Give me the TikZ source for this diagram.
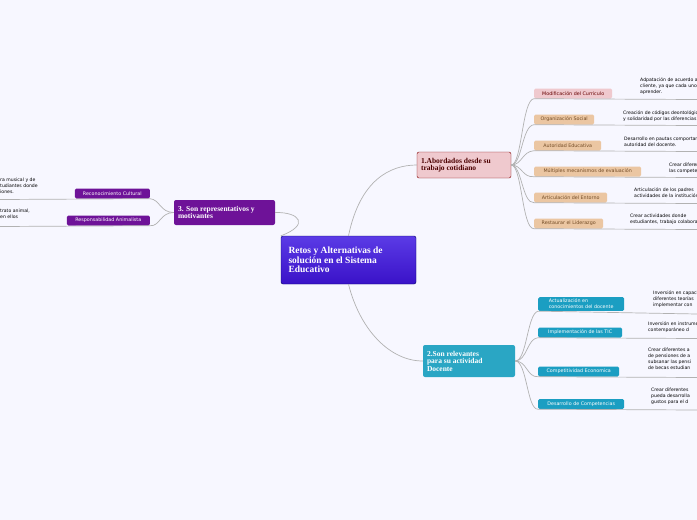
\documentclass[tikz,border=0pt]{standalone}
\usepackage{fontspec}
\setmainfont{Liberation Serif}
\newfontfamily\sm{DejaVu Sans}
\definecolor{teal1}{HTML}{1B9EC2}
\definecolor{teal2}{HTML}{2AA6C4}
\definecolor{pink1}{HTML}{EFC9CE}
\definecolor{tan1}{HTML}{EBC6A2}
\definecolor{pur1}{HTML}{6E1298}
\definecolor{cen1}{HTML}{5B3BE6}
\definecolor{cen2}{HTML}{3A12C8}
\begin{document}
\begin{tikzpicture}[x=1pt,y=-1pt,
 con/.style={draw=gray!60,line width=0.7pt},
 tx/.style={font=\sm\fontsize{4.6}{6}\selectfont,align=left,anchor=north west,inner sep=0},
 sub/.style={font=\sm\fontsize{4.8}{6}\selectfont,anchor=west,inner sep=2pt,rounded corners=1.5pt,minimum height=10pt,align=left},
 tan/.style={sub,fill=tan1,text=brown!60!black},
 pk/.style={sub,fill=pink1,text=red!40!black},
 tl/.style={sub,fill=teal1,text=white},
 pu/.style={sub,fill=pur1,text=white,anchor=east},
 main/.style={rounded corners=2pt,align=flush left,font=\bfseries\fontsize{7.5}{7.5}\selectfont}]
\fill[blue!3] (0,0) rectangle (697,520);
\useasboundingbox (0,0) rectangle (697,520);
% central
\node[main,draw=blue!40!black,top color=cen1,bottom color=cen2,text=white,font=\bfseries\fontsize{9.5}{9.5}\selectfont,minimum width=135pt,minimum height=48pt,text width=120pt] (c) at (348.5,260) {Retos y Alternativas de\\solución en el Sistema\\Educativo};
\node[main,fill=pink1,draw=red!50!black,text=red!30!black,minimum width=94pt,minimum height=26pt,text width=86pt] (n1) at (464,165) {1.Abordados desde su\\trabajo cotidiano};
\node[main,fill=teal2,text=white,minimum width=92pt,minimum height=32pt,text width=84pt] (n2) at (469,361) {2.Son relevantes\\para su actividad\\Docente};
\node[main,fill=pur1,text=white,minimum width=101pt,minimum height=25pt,text width=93pt] (n3) at (224.5,212.5) {3. Son representativos y\\motivantes};
\draw[con] (c.north) .. controls (360,180) and (390,165) .. (n1.west);
\draw[con] (c.south) .. controls (360,330) and (390,361) .. (n2.west);
\draw[con] (c.north west) .. controls (310,225) and (300,212) .. (n3.east);
% branch 1
\foreach \t/\y/\s/\w [count=\i] in {Modificación del Curriculo/93.5/pk/78, Organización Social/119.5/tan/60, Autoridad Educativa/145.5/tan/67, Múltiples mecanismos de evaluación/171.5/tan/107, Articulación del Entorno/197.5/tan/73, Restaurar el Liderazgo/223.5/tan/69}{
 \node[\s,minimum width=\w pt] (a\i) at (534,\y) {\t};
 \draw[con] (n1.east) .. controls (522,165) and (522,\y+6) .. (a\i.south west) -- (697,\y+6);
}
\node[tx] at (640,78) {Adpatación de acuerdo al\\cliente, ya que cada uno\\aprender.};
\node[tx] at (623,111) {Creación de códigos deontológicos\\y solidaridad por las diferencias};
\node[tx] at (624,137) {Desarrollo en pautas comportamentales\\autoridad del docente.};
\node[tx] at (669,163) {Crear diferentes\\las competencias};
\node[tx] at (634,188) {Articulación de los padres\\actividades de la institución};
\node[tx] at (630,214) {Crear actividades donde\\estudiantes, trabajo colaborativo};
% branch 2
\node[tl,minimum width=86pt] (b1) at (538,304) {Actualización en\\conocimientos del docente};
\node[tl,minimum width=84pt] (b2) at (538,332.5) {Implementación de las TIC};
\node[tl,minimum width=81pt] (b3) at (538,371.5) {Competitividad Economica};
\node[tl,minimum width=86pt] (b4) at (538,404) {Desarrollo de Competencias};
\foreach \b/\y in {b1/314,b2/338.5,b3/377.5,b4/410}{
 \draw[con] (n2.east) .. controls (527,361) and (527,\y) .. (\b.south west) -- (697,\y);
}
\node[tx] at (653,291) {Inversión en capacitación\\diferentes teorías\\implementar con};
\node[tx] at (648,322) {Inversión en instrumentos\\contemporáneo d};
\node[tx] at (648,348) {Crear diferentes a\\de pensiones de a\\subsanar las pensi\\de becas estudian};
\node[tx] at (651,388) {Crear diferentes\\pueda desarrolla\\gustos para el d};
% branch 3
\node[pu,minimum width=75pt] (r1) at (150,193.5) {Reconocimiento Cultural};
\node[pu,minimum width=83pt] (r2) at (150,220.5) {Responsabilidad Animalista};
\foreach \r/\y in {r1/199.5,r2/226.5}{
 \draw[con] (n3.west) .. controls (160,212.5) and (160,\y) .. (\r.south east) -- (0,\y);
}
\node[tx] at (0,178) {ra musical y de\\tudiantes donde\\iones.};
\node[tx] at (0,209) {trato animal,\\en ellos};
\end{tikzpicture}
\end{document}
